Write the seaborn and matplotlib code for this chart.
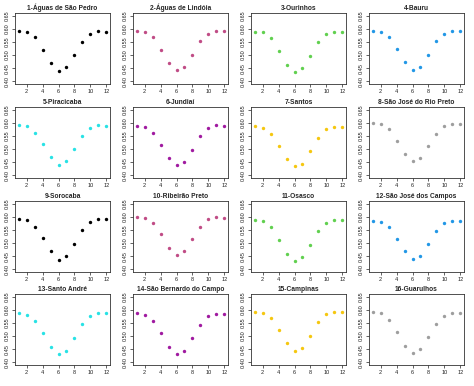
import matplotlib
matplotlib.use("Agg")
import matplotlib.pyplot as plt
import seaborn as sns
import pandas as pd

months = list(range(1, 13))

titles = [
    "1-Águas de São Pedro", "2-Águas de Lindóia", "3-Ourinhos", "4-Bauru",
    "5-Piracicaba", "6-Jundiaí", "7-Santos", "8-São José do Rio Preto",
    "9-Sorocaba", "10-Ribeirão Preto", "11-Osasco", "12-São José dos Campos",
    "13-Santo André", "14-São Bernardo do Campo", "15-Campinas", "16-Guarulhos",
]

colors = [
    "#000000", "#C04C86", "#61D04F", "#2297E6",
    "#28E2E5", "#A01AA0", "#F5C710", "#9E9E9E",
    "#000000", "#C04C86", "#61D04F", "#2297E6",
    "#28E2E5", "#A01AA0", "#F5C710", "#9E9E9E",
]

v01 = [0.590, 0.587, 0.567, 0.518, 0.469, 0.440, 0.453, 0.499, 0.550, 0.582, 0.591, 0.587]
v02 = [0.591, 0.588, 0.567, 0.521, 0.471, 0.443, 0.454, 0.500, 0.553, 0.582, 0.591, 0.591]
v03 = [0.589, 0.586, 0.564, 0.515, 0.464, 0.437, 0.449, 0.495, 0.549, 0.580, 0.589, 0.586]
v04 = [0.591, 0.588, 0.568, 0.522, 0.472, 0.443, 0.456, 0.501, 0.553, 0.582, 0.591, 0.591]
v05 = [0.590, 0.586, 0.563, 0.520, 0.470, 0.440, 0.453, 0.501, 0.550, 0.581, 0.590, 0.589]
v06 = [0.589, 0.584, 0.562, 0.516, 0.466, 0.439, 0.451, 0.496, 0.549, 0.580, 0.590, 0.586]
v07 = [0.587, 0.582, 0.558, 0.510, 0.462, 0.434, 0.445, 0.491, 0.541, 0.575, 0.585, 0.584]
v08 = [0.600, 0.597, 0.578, 0.531, 0.481, 0.455, 0.467, 0.513, 0.559, 0.589, 0.597, 0.595]
v09 = [0.592, 0.588, 0.563, 0.519, 0.468, 0.437, 0.451, 0.497, 0.549, 0.580, 0.590, 0.590]
v10 = [0.601, 0.597, 0.578, 0.536, 0.482, 0.455, 0.468, 0.515, 0.563, 0.592, 0.601, 0.597]
v11 = [0.587, 0.583, 0.560, 0.512, 0.460, 0.433, 0.446, 0.494, 0.545, 0.577, 0.587, 0.586]
v12 = [0.583, 0.580, 0.560, 0.516, 0.468, 0.441, 0.452, 0.497, 0.545, 0.575, 0.584, 0.583]
v13 = [0.586, 0.582, 0.559, 0.512, 0.459, 0.432, 0.445, 0.494, 0.545, 0.576, 0.586, 0.586]
v14 = [0.586, 0.582, 0.558, 0.511, 0.458, 0.430, 0.443, 0.492, 0.543, 0.575, 0.585, 0.585]
v15 = [0.592, 0.589, 0.568, 0.522, 0.472, 0.443, 0.456, 0.502, 0.552, 0.583, 0.592, 0.591]
v16 = [0.590, 0.586, 0.562, 0.516, 0.464, 0.437, 0.450, 0.496, 0.547, 0.577, 0.587, 0.587]

series = [v01, v02, v03, v04, v05, v06, v07, v08,
          v09, v10, v11, v12, v13, v14, v15, v16]

xticks = [2, 4, 6, 8, 10, 12]
yticks = [0.40, 0.45, 0.50, 0.55, 0.60, 0.65]
ytick_labels = ["0.40", "0.45", "0.50", "0.55", "0.60", "0.65"]

sns.set_theme(style="white")
plt.rcParams["font.family"] = ["Liberation Sans", "DejaVu Sans"]

W, H = 474, 386
fig = plt.figure(figsize=(W / 100, H / 100), dpi=100)
fig.patch.set_facecolor("white")

col_left = [15, 133, 251, 369]
row_top = [13, 107, 201, 294]
bw, bh = 95, 71

for i, (title, col, vals) in enumerate(zip(titles, colors, series)):
    r, c = divmod(i, 4)
    left = col_left[c] / W
    bottom = 1 - (row_top[r] + bh) / H
    ax = fig.add_axes([left, bottom, bw / W, bh / H])
    df = pd.DataFrame({"month": months, "value": vals})
    sns.scatterplot(data=df, x="month", y="value", color=col, s=6,
                    linewidth=0, ax=ax, legend=False)
    ax.set_xlim(0.56, 12.44)
    ax.set_ylim(0.39, 0.66)
    ax.set_xticks(xticks)
    ax.set_xticklabels([str(t) for t in xticks])
    ax.set_yticks(yticks)
    ax.set_yticklabels(ytick_labels, rotation=90, va="center")
    ax.set_xlabel("")
    ax.set_ylabel("")
    ax.tick_params(axis="both", length=2, width=0.5, labelsize=4, pad=1.5,
                   colors="#222222", direction="out", bottom=True, left=True)
    for sp in ax.spines.values():
        sp.set_linewidth(0.6)
        sp.set_color("#333333")
    ax.set_title(title, fontsize=4.8, fontweight="bold", pad=2.5)

fig.savefig("out.png", dpi=100, facecolor="white")
